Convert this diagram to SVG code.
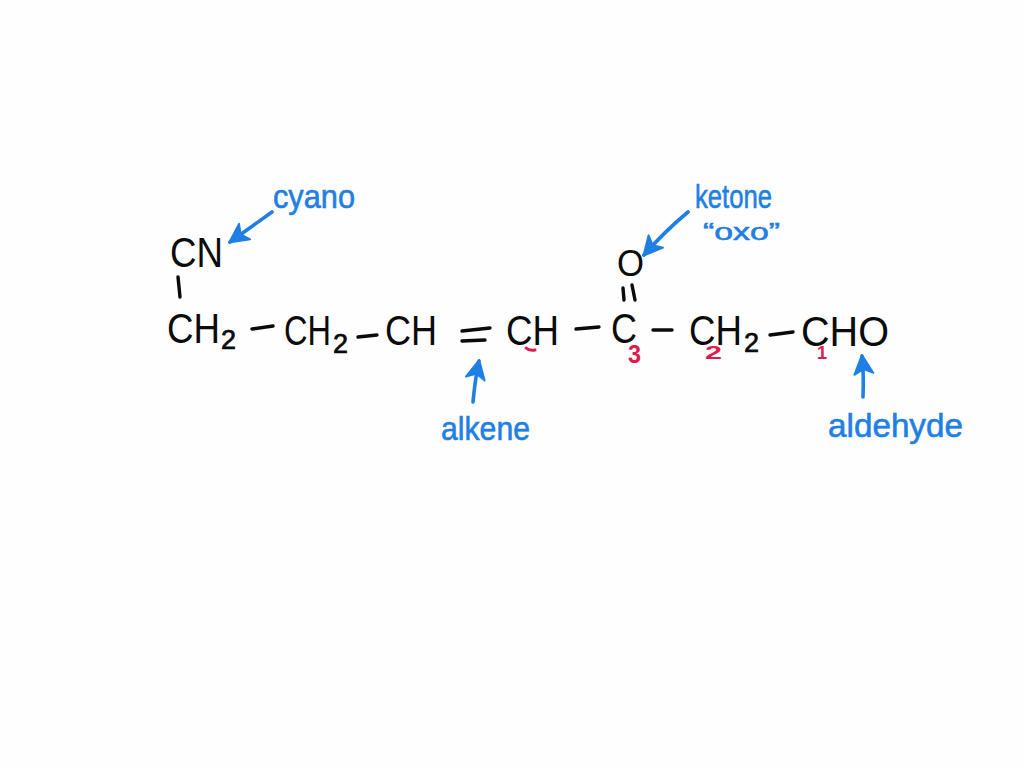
<svg xmlns="http://www.w3.org/2000/svg" width="1024" height="768" viewBox="0 0 1024 768">
<style>
text{font-family:"Liberation Sans","Noto Sans",sans-serif}
.k{fill:#0b0b0b;font-size:42px}
.s{font-size:27px;stroke:#0b0b0b;stroke-width:.7}
.b{fill:#1f7fe3;stroke:#1f7fe3;stroke-width:.6;font-size:33px}
.r{fill:#e0184f;font-size:18px;font-weight:700}
.bond{stroke:#0b0b0b;stroke-width:3.4;stroke-linecap:round;fill:none}
.arr{stroke:#1f7fe3;stroke-width:3.6;stroke-linecap:round;fill:none;marker-end:url(#head)}
</style>
<defs>
<marker id="head" viewBox="0 0 20 20" refX="18" refY="10" markerWidth="24" markerHeight="24" markerUnits="userSpaceOnUse" orient="auto">
<path d="M19 10 L3 2 L7 10 L3 18 Z" fill="#1f7fe3" stroke="#1f7fe3" stroke-width="1.5" stroke-linejoin="round"/>
</marker>
</defs>
<rect width="1024" height="768" fill="#fefefe"/>
<g id="connectors">
<path class="bond" d="M178 277 L180 297"/>
<path class="bond" d="M252 329 L273 326"/>
<path class="bond" d="M358 337 L377 335"/>
<path class="bond" d="M462 331 L490 328"/>
<path class="bond" d="M462 341 L485 340"/>
<path class="bond" d="M576 329 L599 327"/>
<path class="bond" d="M623 288 L624 300"/>
<path class="bond" d="M632 285 L635 300"/>
<path class="bond" d="M653 330 L672 330"/>
<path class="bond" d="M770 335 L793 332"/>
<path class="arr" d="M272 212 L230 242"/>
<path class="arr" d="M688 212 Q664 232 644 255"/>
<path class="arr" d="M473 402 Q475 380 479 361"/>
<path class="arr" d="M863 397 Q864 375 862 356"/>
</g>
<g id="cn"><text class="k" x="170" y="267" textLength="53" lengthAdjust="spacingAndGlyphs">CN</text></g>
<g id="ch2-a"><text class="k" y="343"><tspan x="167" textLength="53" lengthAdjust="spacingAndGlyphs">CH</tspan><tspan class="s" x="221" y="349">2</tspan></text></g>
<g id="ch2-b"><text class="k" y="345"><tspan x="284" textLength="47" lengthAdjust="spacingAndGlyphs">CH</tspan><tspan class="s" x="333" y="353">2</tspan></text></g>
<g id="ch-a"><text class="k" x="385" y="345" textLength="52" lengthAdjust="spacingAndGlyphs">CH</text></g>
<g id="ch-b"><text class="k" x="506" y="345" textLength="53" lengthAdjust="spacingAndGlyphs">CH</text></g>
<g id="o-ketone"><text class="k" x="617" y="276" textLength="27" lengthAdjust="spacingAndGlyphs" style="font-size:36px">O</text></g>
<g id="c-ketone"><text class="k" x="611" y="343" textLength="26" lengthAdjust="spacingAndGlyphs">C</text></g>
<g id="ch2-c"><text class="k" y="345"><tspan x="689" textLength="53" lengthAdjust="spacingAndGlyphs">CH</tspan><tspan class="s" x="744" y="352">2</tspan></text></g>
<g id="cho"><text class="k" x="801" y="346" textLength="88" lengthAdjust="spacingAndGlyphs">CHO</text></g>
<g id="locants">
<path d="M526 348 Q529 351 535 350" stroke="#e0184f" stroke-width="3" fill="none" stroke-linecap="round"/>
<text class="r" x="628" y="363" textLength="13" lengthAdjust="spacingAndGlyphs" style="font-size:25px">3</text>
<text class="r" x="705" y="359" textLength="17" lengthAdjust="spacingAndGlyphs">2</text>
<text class="r" x="817" y="359">1</text>
</g>
<g id="label-cyano"><text class="b" x="273" y="208" textLength="82" lengthAdjust="spacingAndGlyphs">cyano</text></g>
<g id="label-ketone"><text class="b" x="695" y="208" textLength="77" lengthAdjust="spacingAndGlyphs">ketone</text><text class="b" x="703" y="240" textLength="77" lengthAdjust="spacingAndGlyphs" style="font-size:24px">“oxo”</text></g>
<g id="label-alkene"><text class="b" x="441" y="440" textLength="89" lengthAdjust="spacingAndGlyphs">alkene</text></g>
<g id="label-aldehyde"><text class="b" x="828" y="437" textLength="135" lengthAdjust="spacingAndGlyphs">aldehyde</text></g>
</svg>
